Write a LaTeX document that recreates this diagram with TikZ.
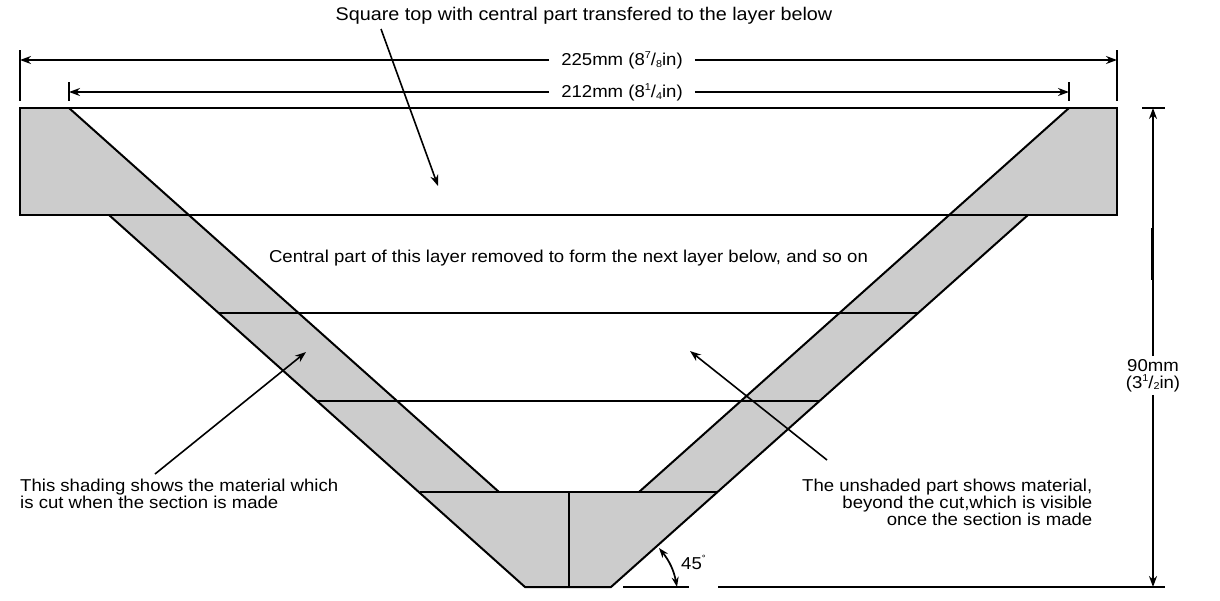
\documentclass[tikz,border=0pt]{standalone}
\usepackage{fontspec}
\setmainfont[FakeStretch=1.08]{Liberation Sans}
\usetikzlibrary{arrows.meta}
\definecolor{cutgrey}{HTML}{CCCCCC}
\newcommand{\frc}[2]{\raisebox{0.42em}{\fontsize{10}{10}\selectfont #1}/\raisebox{-0.1em}{\fontsize{10}{10}\selectfont #2}}
\tikzset{
  edge/.style={line width=2pt,line join=miter},
  tick/.style={line width=2pt},
  dimline/.style={line width=1.7pt,-{Stealth[length=11pt,width=8pt]}},
  leader/.style={line width=1.6pt,-{Stealth[length=11pt,width=8pt]}},
  label/.style={font=\fontsize{17.2}{17}\selectfont,inner sep=0pt,align=left},
  dimlabel/.style={label,inner xsep=12pt,inner ysep=3pt,align=center}
}
\begin{document}
\begin{tikzpicture}[x=1pt,y=-1pt]
  \useasboundingbox (0,0) rectangle (1220,600);

  % Shaded section
  \fill[cutgrey] (20,108) -- (69,108) -- (499,492) -- (639,492) -- (1069,108) -- (1117,108)
    -- (1117,215) -- (1028,215) -- (611,587) -- (525,587) -- (109,215) -- (20,215) -- cycle;

  % Top layer
  \draw[edge] (20,108) rectangle (1117,215);

  % Diagonals
  \draw[edge] (69,108) -- (499,492);
  \draw[edge] (1069,108) -- (639,492);
  \draw[edge] (109,215) -- (525,587) -- (611,587) -- (1028,215);

  % Layer lines
  \foreach \xa/\xb/\y in {219/918/313,317/820/401,420/718/492} {
    \draw[edge] (\xa,\y) -- (\xb,\y);
  }
  \draw[edge] (568.5,492) -- (568.5,587);

  % Ticks
  \coordinate (wideL) at (20,60);
  \coordinate (wideR) at (1117,60);
  \coordinate (innerL) at (69,92);
  \coordinate (innerR) at (1069,92);
  \coordinate (heightT) at (1153,108);
  \coordinate (heightB) at (1153,587);
  \draw[tick] (20,50) -- (20,101);
  \draw[tick] (1117,50) -- (1117,101);
  \draw[tick] (69,82) -- (69,101);
  \draw[tick] (1069,82) -- (1069,101);
  \draw[tick] (1142,108) -- (1165,108);

  % Base line
  \draw[tick] (623,587) -- (689,587);
  \draw[tick] (718,587) -- (1165,587);

  % Widths
  \node[dimlabel,text height=14.5pt,text depth=3.6pt] (widelabel) at (622,60) {225mm (8\frc{7}{8}in)};
  \node[dimlabel,text height=14.5pt,text depth=3.6pt] (innerlabel) at (622,92) {212mm (8\frc{1}{4}in)};
  \draw[dimline] (widelabel) -- (wideL);
  \draw[dimline] (widelabel) -- (wideR);
  \draw[dimline] (innerlabel) -- (innerL);
  \draw[dimline] (innerlabel) -- (innerR);

  % Height
  \node[dimlabel,inner xsep=0pt,inner ysep=3pt] (heightlabel) at (1153,375.5) {90mm\\(3\frc{1}{2}in)};
  \draw[dimline] (heightlabel) -- (heightT);
  \draw[dimline] (heightlabel) -- (heightB);
  \draw[line width=2.8pt] (1152.5,228) -- (1152.5,280);

  % Notes
  \node[label,font=\fontsize{18.3}{17}\selectfont] (toplabel) at (584,15.5) {Square top with central part transfered to the layer below};
  \node[label] (midlabel) at (568.5,258) {Central part of this layer removed to form the next layer below, and so on};
  \node[label,anchor=west] (shadelabel) at (20,494) {This shading shows the material which\\is cut when the section is made};
  \node[label,anchor=east,align=right] (unshadelabel) at (1092.5,502.5) {The unshaded part shows material,\\beyond the cut,which is visible\\once the section is made};

  % Leaders
  \coordinate (topstart) at (381,29);
  \coordinate (toptip) at (438,186);
  \coordinate (shadestart) at (155,474);
  \coordinate (shadetip) at (306,352);
  \coordinate (unshadestart) at (827,460);
  \coordinate (unshadetip) at (690,351);
  \draw[leader] (topstart) -- (toptip);
  \draw[leader] (shadestart) -- (shadetip);
  \draw[leader] (unshadestart) -- (unshadetip);

  % Angle
  \coordinate (anglea) at (659,548);
  \coordinate (angleb) at (677,587);
  \draw[line width=1.7pt,{Stealth[length=10pt,width=7pt]}-{Stealth[length=10pt,width=7pt]}] (anglea) to[bend left=14] (angleb);
  \node[label,anchor=west] (anglelabel) at (681,562.5) {45\raisebox{0.42em}{\fontsize{9}{9}\selectfont °}};
\end{tikzpicture}
\end{document}
